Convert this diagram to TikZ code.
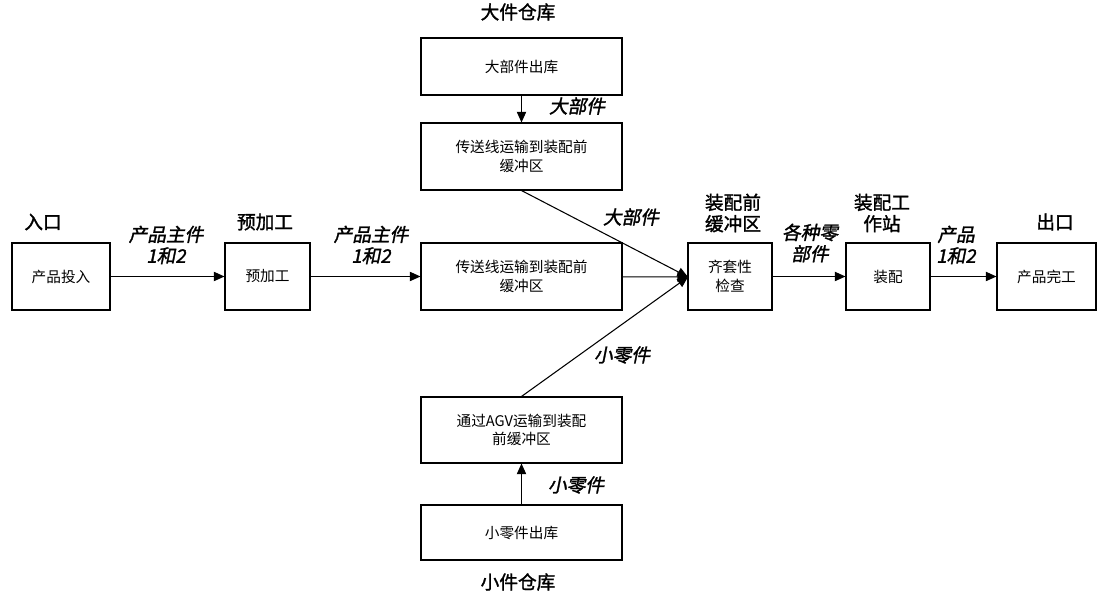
\documentclass[tikz,border=0pt]{standalone}
\usepackage{fontspec}
\newfontfamily\cjk{Noto Sans CJK SC}
\newfontfamily\cjkbi[FakeSlant=0.2,FakeBold=1.5]{Noto Sans CJK SC}
\newfontfamily\cjkb[FakeBold=1.5]{Noto Sans CJK SC}
\usetikzlibrary{arrows.meta}
\begin{document}
\begin{tikzpicture}[x=0.75pt,y=-0.75pt,
 box/.style={draw,thick,align=center,font=\cjk\fontsize{11}{14}\selectfont,inner sep=0pt},
 hd/.style={align=center,font=\cjkb\fontsize{14}{16}\selectfont},
 lb/.style={align=center,font=\cjkbi\fontsize{14}{16}\selectfont},
 ar/.style={thick,-{Triangle[length=8pt,width=7pt]}}]
\useasboundingbox (0,0) rectangle (1108,598);
\newcommand\bx[6]{\node[box,minimum width=#4*0.75pt-#2*0.75pt,minimum height=#5*0.75pt-#3*0.75pt] (#1) at ({(#2+#4)/2},{(#3+#5)/2}) {#6};}
\bx{in}{12}{243}{110}{310}{产品投入}
\bx{pre}{225}{243}{310}{310}{预加工}
\bx{mid}{421}{243}{622}{310}{传送线运输到装配前\\缓冲区}
\bx{top}{421}{123}{622}{190}{传送线运输到装配前\\缓冲区}
\bx{big}{421}{38}{622}{95}{大部件出库}
\bx{agv}{421}{397}{622}{463}{通过AGV运输到装配\\前缓冲区}
\bx{small}{421}{505}{622}{560}{小零件出库}
\bx{chk}{688}{243}{772}{310}{齐套性\\检查}
\bx{asm}{846}{243}{930}{310}{装配}
\bx{out}{997}{243}{1096}{310}{产品完工}
\coordinate (j) at (688,277);
\draw[ar] (in) -- (pre);
\draw[ar] (pre) -- (mid);
\draw[ar] (mid) -- (j);
\draw[ar] (top.south) ++(0,0) coordinate (ts) (ts) -- (j);
\draw[ar] (agv.north) -- (j);
\draw[ar] (big) -- (top);
\draw[ar] (small) -- (agv);
\draw[ar] (chk) -- (asm);
\draw[ar] (asm) -- (out);
\node[hd] (h1) at (43,222) {入口};
\node[hd] (h2) at (265,222) {预加工};
\node[hd] (h3) at (733,213) {装配前\\缓冲区};
\node[hd] (h4) at (882,213) {装配工\\作站};
\node[hd] (h5) at (1055,222) {出口};
\node[hd] (h6) at (518,12) {大件仓库};
\node[hd] (h7) at (518,582) {小件仓库};
\node[lb] (l1) at (166,245) {产品主件\\1和2};
\node[lb] (l2) at (371,245) {产品主件\\1和2};
\node[lb] (l3) at (577,106) {大部件};
\node[lb] (l4) at (631,217) {大部件};
\node[lb] (l5) at (810,243) {各种零\\部件};
\node[lb] (l6) at (956,245) {产品\\1和2};
\node[lb] (l7) at (622,355) {小零件};
\node[lb] (l8) at (576,485) {小零件};
\end{tikzpicture}
\end{document}
